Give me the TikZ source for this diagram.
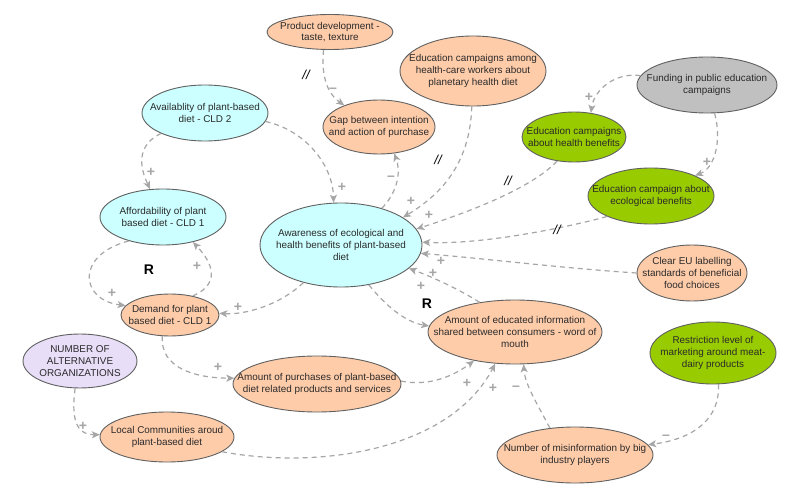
\documentclass[tikz,border=0pt]{standalone}
\usepackage{fontspec}
\setmainfont{Liberation Sans}
\usetikzlibrary{arrows.meta,shapes.geometric}
\definecolor{peach}{HTML}{FFCCAA}
\definecolor{cyanfill}{HTML}{CCFFFF}
\definecolor{greenfill}{HTML}{99CC00}
\definecolor{grayfill}{HTML}{C0C0C0}
\definecolor{lavender}{HTML}{E8DEF8}
\definecolor{bordergray}{HTML}{606060}
\definecolor{linkgray}{HTML}{A6A6A6}
\definecolor{textc}{HTML}{2A2A2A}
\begin{document}
\begin{tikzpicture}[x=1pt,y=1pt,
  ell/.style={ellipse, draw=bordergray, line width=0.9pt, inner sep=0pt},
  lbl/.style={align=center, font=\fontsize{9.9}{11.7}\selectfont, text=textc, inner sep=0pt},
  link/.style={draw=linkgray, line width=1.2pt, dash pattern=on 5pt off 4pt, -{Stealth[length=8pt,width=7pt,inset=2pt]}},
  sgn/.style={text=linkgray, font=\bfseries\fontsize{14}{14}\selectfont, inner sep=0pt},
  brk/.style={text=black, font=\itshape\fontsize{13}{13}\selectfont, inner sep=0pt},
  loopR/.style={text=black, font=\bfseries\fontsize{14}{14}\selectfont, inner sep=0pt}]
\fill[white] (0,0) rectangle (800,-497);
\useasboundingbox (0,0) rectangle (800,-497);

% nodes
\node[ell, fill=peach, minimum width=126, minimum height=35, label={[lbl]center:Product development -\\taste, texture}] (PD) at (330,-32) {};
\node[ell, fill=peach, minimum width=146, minimum height=70, label={[lbl]center:Education campaigns among\\health-care workers about\\planetary health diet}] (HC) at (473,-71) {};
\node[ell, fill=cyanfill, minimum width=126, minimum height=56, label={[lbl]center:Availablity of plant-based\\diet - CLD 2}] (AV) at (205,-113) {};
\node[ell, fill=peach, minimum width=112, minimum height=54, label={[lbl]center:Gap between intention\\and action of purchase}] (GAP) at (379,-127) {};
\node[ell, fill=grayfill, minimum width=140, minimum height=56, label={[lbl]center:Funding in public education\\campaigns}] (FU) at (707,-85) {};
\node[ell, fill=greenfill, minimum width=104, minimum height=50, label={[lbl]center:Education campaigns\\about health benefits}] (HB) at (574,-137) {};
\node[ell, fill=greenfill, minimum width=126, minimum height=56, label={[lbl]center:Education campaign about\\ecological benefits}] (EB) at (651,-196) {};
\node[ell, fill=cyanfill, minimum width=126, minimum height=56, label={[lbl]center:Affordability of plant\\based diet - CLD 1}] (AF) at (163,-217) {};
\node[ell, fill=cyanfill, minimum width=162, minimum height=84, label={[lbl]center:Awareness of ecological and\\health benefits of plant-based\\diet}] (AW) at (341,-245) {};
\node[ell, fill=peach, minimum width=98, minimum height=42, label={[lbl]center:Demand for plant\\based diet - CLD 1}] (DE) at (170,-315) {};
\node[ell, fill=peach, minimum width=110, minimum height=56, label={[lbl]center:Clear EU labelling\\standards of beneficial\\food choices}] (EU) at (692,-273) {};
\node[ell, fill=peach, minimum width=174, minimum height=64, label={[lbl]center:Amount of educated information\\shared between consumers - word of\\mouth}] (EI) at (515,-332) {};
\node[ell, fill=greenfill, minimum width=126, minimum height=62, label={[lbl]center:Restriction level of\\marketing around meat-\\dairy products}] (RE) at (713,-353) {};
\node[ell, fill=lavender, minimum width=114, minimum height=54, label={[lbl]center:NUMBER OF\\ALTERNATIVE\\ORGANIZATIONS}] (NU) at (80,-361) {};
\node[ell, fill=peach, minimum width=168, minimum height=56, label={[lbl]center:Amount of purchases of plant-based\\diet related products and services}] (PU) at (317,-384) {};
\node[ell, fill=peach, minimum width=134, minimum height=50, label={[lbl]center:Local Communities aroud\\plant-based diet}] (LC) at (167,-437) {};
\node[ell, fill=peach, minimum width=156, minimum height=56, label={[lbl]center:Number of misinformation by big\\industry players}] (MI) at (575,-455) {};

% connectors
\draw[link] (PD.250) to[out=-95,in=145] (GAP.148);
\draw[link] (AV.205) .. controls (130,-148) and (145,-178) .. (AF.115);
\draw[link] (AV.-8) .. controls (305,-130) and (333,-165) .. (AW.100);
\draw[link] (AW.42) .. controls (395,-195) and (402,-175) .. (GAP.-60);
\draw[link] (HC.-92) .. controls (470,-165) and (440,-195) .. (AW.24);
\draw[link] (HB.-125) .. controls (530,-190) and (460,-215) .. (AW.12);
\draw[link] (FU.172) .. controls (615,-72) and (594,-90) .. (HB.55);
\draw[link] (FU.-75) .. controls (722,-140) and (715,-168) .. (EB.25);
\draw[link] (EB.205) .. controls (565,-228) and (480,-245) .. (AW.2);
\draw[link] (EU.180) .. controls (560,-268) and (480,-258) .. (AW.-6);
\draw[link] (EI.140) .. controls (460,-290) and (435,-278) .. (AW.-19);
\draw[link] (AW.-55) .. controls (385,-305) and (405,-322) .. (EI.176);
\draw[link] (AF.215) .. controls (75,-255) and (80,-300) .. (DE.168);
\draw[link] (DE.40) .. controls (225,-282) and (208,-258) .. (AF.-40);
\draw[link] (AW.225) .. controls (280,-305) and (245,-315) .. (DE.2);
\draw[link] (DE.250) .. controls (160,-368) and (195,-378) .. (PU.176);
\draw[link] (NU.-100) .. controls (70,-425) and (80,-435) .. (LC.178);
\draw[link] (PU.2) .. controls (430,-387) and (455,-375) .. (EI.215);
\draw[link] (LC.-15) .. controls (320,-470) and (450,-450) .. (EI.238);
\draw[link] (MI.133) .. controls (538,-405) and (525,-385) .. (EI.-75);
\draw[link] (RE.-80) .. controls (720,-425) and (685,-440) .. (MI.8);

% signs
\node[sgn] (s1) at (333,-90) {--};
\node[brk] (b1) at (306,-75) {//};
\node[sgn] (s2) at (151,-172) {+};
\node[sgn] (s3) at (342,-187) {+};
\node[sgn] (s4) at (391,-178) {--};
\node[brk] (b2) at (438,-160) {//};
\node[sgn] (s5) at (411,-201) {+};
\node[brk] (b3) at (508,-181) {//};
\node[sgn] (s6) at (429,-215) {+};
\node[sgn] (s7) at (589,-97) {+};
\node[sgn] (s8) at (707,-162) {+};
\node[brk] (b4) at (557,-230) {//};
\node[sgn] (s9) at (441,-261) {+};
\node[sgn] (s10) at (433,-273) {+};
\node[sgn] (s11) at (421,-286) {+};
\node[loopR] (r1) at (427,-304) {R};
\node[sgn] (s12) at (112,-293) {+};
\node[sgn] (s13) at (197,-266) {+};
\node[loopR] (r2) at (149,-270) {R};
\node[sgn] (s14) at (238,-307) {+};
\node[sgn] (s15) at (218,-367) {+};
\node[sgn] (s16) at (83,-426) {+};
\node[sgn] (s17) at (467,-383) {+};
\node[sgn] (s18) at (493,-388) {+};
\node[sgn] (s19) at (516,-388) {--};
\node[sgn] (s20) at (666,-437) {--};
\end{tikzpicture}
\end{document}
